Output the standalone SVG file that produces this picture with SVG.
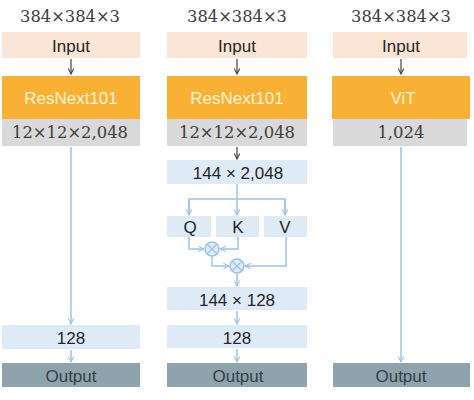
<svg xmlns="http://www.w3.org/2000/svg" width="474" height="400" viewBox="0 0 474 400">
<defs>
<marker id="ad" viewBox="0 0 10 10" refX="9" refY="5" markerWidth="7" markerHeight="7" orient="auto" markerUnits="userSpaceOnUse"><path d="M1,1 L9,5 L1,9" fill="none" stroke="#404040" stroke-width="1.5"/></marker>
<marker id="ab" viewBox="0 0 10 10" refX="9" refY="5" markerWidth="7" markerHeight="7" orient="auto" markerUnits="userSpaceOnUse"><path d="M1,1 L9,5 L1,9" fill="none" stroke="#9dc3e6" stroke-width="1.5"/></marker>
<style>
.inp{fill:#fbe5d6}
.org{fill:#f8b134}
.gry{fill:#d9d9d9}
.lb{fill:#deebf7}
.out{fill:#8fa3ad}
.s{font-family:"Liberation Sans",Arial,sans-serif;font-size:17px;text-anchor:middle;fill:#262626}
.w{fill:#fff4d6}
.sr{font-family:"DejaVu Serif","Liberation Serif",serif;font-size:16.5px;text-anchor:middle;fill:#404040}
.o{fill:#333f48}
.dl{stroke:#404040;stroke-width:1.2;fill:none}
.bl{stroke:#9dc3e6;stroke-width:1.5;fill:none}
</style>
</defs>
<rect width="474" height="400" fill="#fff"/>

<g id="col1">
<text class="sr" x="70" y="22" textLength="100" lengthAdjust="spacingAndGlyphs">384×384×3</text>
<g id="in1"><rect class="inp" x="2" y="32" width="138" height="26"/><text class="s" x="71" y="52" font-size="18">Input</text></g>
<g id="res1"><rect class="org" x="2" y="76" width="138" height="43"/><text class="s w" x="71" y="104">ResNext101</text></g>
<g id="f1"><rect class="gry" x="2" y="119" width="138" height="27"/><text class="sr" x="70" y="138" textLength="116" lengthAdjust="spacingAndGlyphs">12×12×2,048</text></g>
<g id="d1"><rect class="lb" x="2" y="325" width="138" height="24"/><text class="s" x="71" y="344" font-size="18">128</text></g>
<g id="o1"><rect class="out" x="2" y="363" width="138" height="24"/><text class="s o" x="71" y="382" font-size="18">Output</text></g>
</g>

<g id="col2">
<text class="sr" x="237" y="22" textLength="100" lengthAdjust="spacingAndGlyphs">384×384×3</text>
<g id="in2"><rect class="inp" x="167" y="32" width="140" height="26"/><text class="s" x="237" y="52" font-size="18">Input</text></g>
<g id="res2"><rect class="org" x="167" y="76" width="140" height="43"/><text class="s w" x="237" y="104">ResNext101</text></g>
<g id="f2"><rect class="gry" x="167" y="119" width="140" height="27"/><text class="sr" x="237" y="138" textLength="116" lengthAdjust="spacingAndGlyphs">12×12×2,048</text></g>
<g id="r2"><rect class="lb" x="167" y="160" width="140" height="24"/><text class="s" x="238" y="179" font-size="18">144 × 2,048</text></g>
<g id="q"><rect class="lb" x="167" y="216" width="44" height="21"/><text class="s" x="190" y="233" fill="#000">Q</text></g>
<g id="k"><rect class="lb" x="216" y="216" width="43" height="21"/><text class="s" x="238" y="233" fill="#000">K</text></g>
<g id="v"><rect class="lb" x="264" y="216" width="43" height="21"/><text class="s" x="285" y="233" fill="#000">V</text></g>
<g id="m1"><circle cx="212" cy="249" r="7" fill="#deebf7" stroke="#9dc3e6" stroke-width="1.5"/><path d="M207,244 L217,254 M217,244 L207,254" stroke="#9dc3e6" stroke-width="1.3"/></g>
<g id="m2"><circle cx="237" cy="266" r="7" fill="#deebf7" stroke="#9dc3e6" stroke-width="1.5"/><path d="M232,261 L242,271 M242,261 L232,271" stroke="#9dc3e6" stroke-width="1.3"/></g>
<g id="r3"><rect class="lb" x="167" y="287" width="140" height="23"/><text class="s" x="237" y="306" font-size="18">144 × 128</text></g>
<g id="d2"><rect class="lb" x="167" y="325" width="140" height="23"/><text class="s" x="237" y="344" font-size="18">128</text></g>
<g id="o2"><rect class="out" x="167" y="363" width="140" height="24"/><text class="s o" x="238" y="382" font-size="18">Output</text></g>
</g>

<g id="col3">
<text class="sr" x="401" y="22" textLength="100" lengthAdjust="spacingAndGlyphs">384×384×3</text>
<g id="in3"><rect class="inp" x="333" y="32" width="134" height="26"/><text class="s" x="401" y="52" font-size="18">Input</text></g>
<g id="vit"><rect class="org" x="332" y="76" width="138" height="43"/><text class="s w" x="403" y="104">ViT</text></g>
<g id="f3"><rect class="gry" x="333" y="119" width="134" height="27"/><text class="sr" x="401" y="138">1,024</text></g>
<g id="o3"><rect class="out" x="333" y="363" width="137" height="24"/><text class="s o" x="401" y="382" font-size="18">Output</text></g>
</g>

<g id="connectors">
<path class="dl" d="M71,59 V74" marker-end="url(#ad)"/>
<path class="dl" d="M237,59 V74" marker-end="url(#ad)"/>
<path class="dl" d="M401,59 V74" marker-end="url(#ad)"/>
<path class="dl" d="M237,147 V159" marker-end="url(#ad)"/>
<path class="bl" d="M71,147 V324" marker-end="url(#ab)"/>
<path class="bl" d="M71,350 V362" marker-end="url(#ab)"/>
<path class="bl" d="M401,147 V362" marker-end="url(#ab)"/>
<path class="bl" d="M237,184 V215" marker-end="url(#ab)"/>
<path class="bl" d="M189,215 V199 H285 V215" />
<path class="bl" d="M189,199 V215" marker-end="url(#ab)"/>
<path class="bl" d="M285,199 V215" marker-end="url(#ab)"/>
<path class="bl" d="M189,237 V249 H204" marker-end="url(#ab)"/>
<path class="bl" d="M238,237 V249 H220" marker-end="url(#ab)"/>
<path class="bl" d="M212,256 V266 H229" marker-end="url(#ab)"/>
<path class="bl" d="M286,237 V266 H245" marker-end="url(#ab)"/>
<path class="bl" d="M237,273 V286" marker-end="url(#ab)"/>
<path class="bl" d="M237,311 V324" marker-end="url(#ab)"/>
<path class="bl" d="M237,349 V362" marker-end="url(#ab)"/>
</g>
</svg>
